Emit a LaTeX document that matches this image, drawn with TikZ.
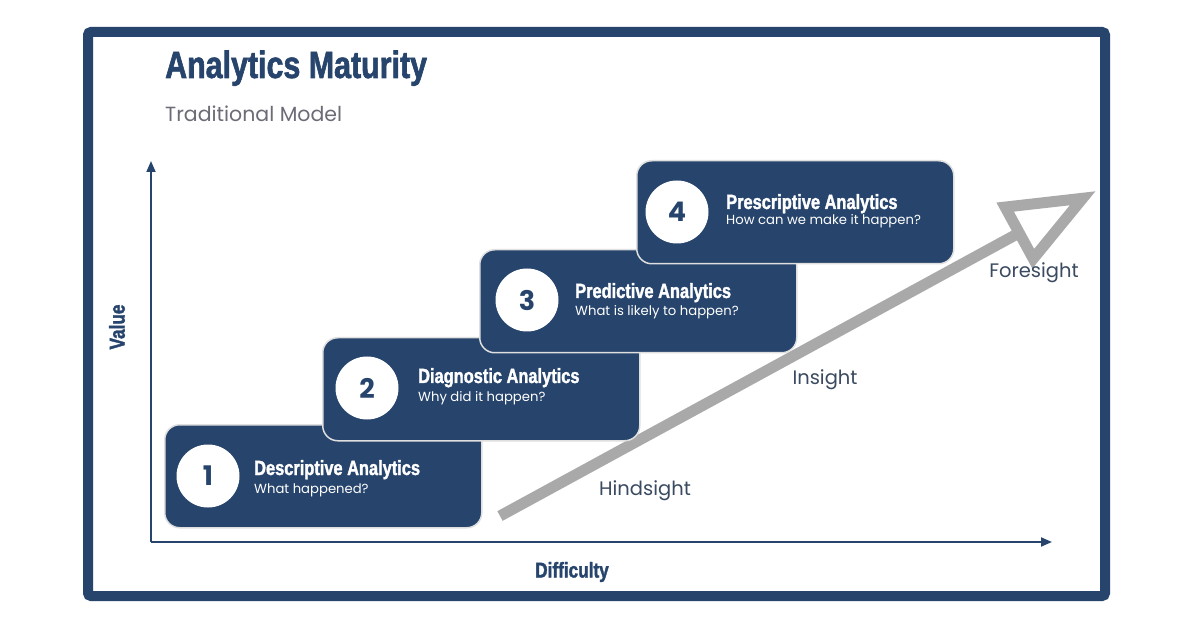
\documentclass[tikz,border=0pt]{standalone}
\usepackage{fontspec}
\setmainfont{Poppins}
\newfontfamily\cond[FakeStretch=0.8,BoldFeatures={FakeBold=1.6}]{Liberation Sans}
\usetikzlibrary{arrows.meta,calc}
\definecolor{navy}{HTML}{26446C}
\definecolor{subgray}{HTML}{6C6C76}
\definecolor{arrowgray}{HTML}{A9A9A9}
\definecolor{labcol}{HTML}{3A4A60}
\tikzset{
  stepbox/.style={draw=gray!25, line width=1.5pt, fill=navy, rounded corners=15pt,
    minimum width=317pt, minimum height=103pt, anchor=north west, inner sep=0pt},
  numcirc/.style={circle, fill=white, minimum size=63pt, inner sep=0pt,
    text=navy, font=\fontsize{27}{27}\selectfont\bfseries},
  boxtitle/.style={anchor=base west, inner sep=0pt, text=white,
    font=\cond\bfseries\fontsize{20.5}{21}\selectfont},
  boxsub/.style={anchor=base west, inner sep=0pt, text=white,
    font=\fontsize{13.2}{14}\selectfont},
  axislabel/.style={inner sep=0pt, text=navy, font=\cond\bfseries\fontsize{21.5}{22}\selectfont},
  sightlabel/.style={inner sep=0pt, text=labcol, font=\fontsize{19.5}{20}\selectfont},
  axis/.style={draw=navy, line width=1.8pt, -{Triangle[length=11pt,width=9pt]}}
}
\begin{document}
\begin{tikzpicture}[x=1pt,y=-1pt]
\useasboundingbox (0,0) rectangle (1200,628);
\fill[white] (0,0) rectangle (1200,628);
% frame
\draw[navy, line width=10pt, rounded corners=3pt] (88,32) rectangle (1105,596);
% title
\node[anchor=base west, inner sep=0pt, text=navy, font=\cond\bfseries\fontsize{38}{38}\selectfont] (title) at (165,78) {Analytics Maturity};
\node[anchor=base west, inner sep=0pt, text=subgray, font=\fontsize{20.5}{21}\selectfont] (subtitle) at (165,122) {Traditional Model};
% axes
\coordinate (origin) at (151,542);
\coordinate (ytop) at (151,161);
\coordinate (xend) at (1052,542);
\draw[axis] (origin) -- (ytop);
\draw[axis] (origin) -- (xend);
\node[axislabel, rotate=90] (value) at (117,327) {Value};
\node[axislabel] (difficulty) at (572,572) {Difficulty};
% gray arrow
\coordinate (astart) at (500,516);
\coordinate (atip) at (1096,191);
\draw[arrowgray, line width=11pt, -{Triangle[open,length=93pt,width=72pt]}] (astart) -- (atip);
\node[sightlabel] (hind) at (645,491) {Hindsight};
\node[sightlabel] (ins) at (825,380) {Insight};
\node[sightlabel] (fore) at (1034,273) {Foresight};
% box 1
\node[stepbox] (b1) at (164,424) {};
\node[numcirc] (c1) at ($(b1.north west)+(44,52)$) {1};
\node[boxtitle] (t1) at ($(b1.north west)+(90,51)$) {Descriptive Analytics};
\node[boxsub] (s1) at ($(b1.north west)+(90,69)$) {What happened?};
% box 2
\node[stepbox] (b2) at (322,337) {};
\node[numcirc] (c2) at ($(b2.north west)+(45,51)$) {2};
\node[boxtitle] (t2) at ($(b2.north west)+(96,46)$) {Diagnostic Analytics};
\node[boxsub] (s2) at ($(b2.north west)+(96,64)$) {Why did it happen?};
% box 3
\node[stepbox] (b3) at (479,249) {};
\node[numcirc] (c3) at ($(b3.north west)+(48,51)$) {3};
\node[boxtitle] (t3) at ($(b3.north west)+(96,49)$) {Predictive Analytics};
\node[boxsub] (s3) at ($(b3.north west)+(96,67)$) {What is likely to happen?};
% box 4
\node[stepbox] (b4) at (636,160) {};
\node[numcirc] (c4) at ($(b4.north west)+(41,52)$) {4};
\node[boxtitle] (t4) at ($(b4.north west)+(90,49)$) {Prescriptive Analytics};
\node[boxsub] (s4) at ($(b4.north west)+(90,65)$) {How can we make it happen?};
\end{tikzpicture}
\end{document}
